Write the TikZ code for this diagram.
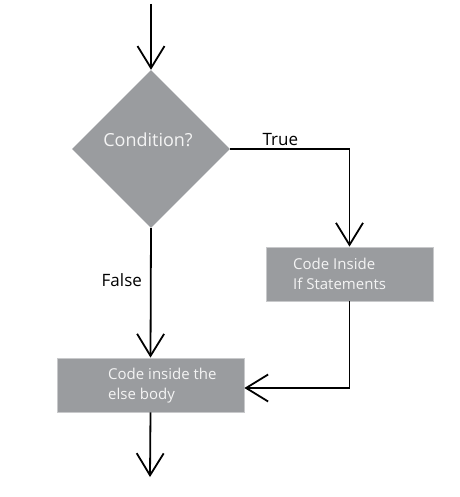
\documentclass[tikz,border=0pt]{standalone}
\usepackage{fontspec}
\setmainfont{Open Sans}
\usetikzlibrary{shapes.geometric,arrows.meta}
\definecolor{boxgray}{HTML}{9A9C9F}
\definecolor{boxedge}{HTML}{C8C9CB}
\definecolor{boxtext}{HTML}{F4F4F4}
\tikzset{
    flow/.style={line width=1.8pt,black,-{Straight Barb[length=22pt,width=27pt,line width=1.8pt]}},
    block/.style={draw=boxedge,fill=boxgray,line width=0.8pt,inner sep=0pt},
    blocktext/.style={text=boxtext,align=left,inner sep=0pt,anchor=west,font=\fontsize{15}{20}\selectfont},
    lbl/.style={font=\fontsize{17}{20}\selectfont,inner sep=0pt}
}
\begin{document}
\begin{tikzpicture}[x=1pt,y=-1pt]
        \useasboundingbox (0,0) rectangle (459,497);
        \coordinate (start) at (151,4);
        \coordinate (finish) at (150,477);
        \node[diamond,aspect=1,fill=boxgray,inner sep=0pt,minimum size=158pt] (cond) at (151,149) {};
        \node[text=boxtext,inner sep=0pt,font=\fontsize{18}{22}\selectfont] (condtxt) at (148,140) {Condition?};
        \node[block,minimum width=167pt,minimum height=54pt] (ifbox) at (349.5,274) {};
        \node[blocktext] (iftxt) at (293,274) {Code Inside\\If Statements};
        \node[block,minimum width=187pt,minimum height=54pt] (elsebox) at (150.5,385) {};
        \node[blocktext] (elsetxt) at (108,386) {Code inside the\\else body};
        \draw[flow] (start) -- (cond.north);
        \draw[flow] (cond.east) -| node[lbl,pos=0.21,above,yshift=2pt] (truelbl) {True} (ifbox.north);
        \draw[flow] (cond.south) -- node[lbl,pos=0.4,left,xshift=-8pt] (falselbl) {False} (elsebox.north);
        \draw[flow] (ifbox.south) |- ([yshift=-3pt]elsebox.east);
        \draw[flow] (elsebox.south) -- (finish);
    \end{tikzpicture}
\end{document}
